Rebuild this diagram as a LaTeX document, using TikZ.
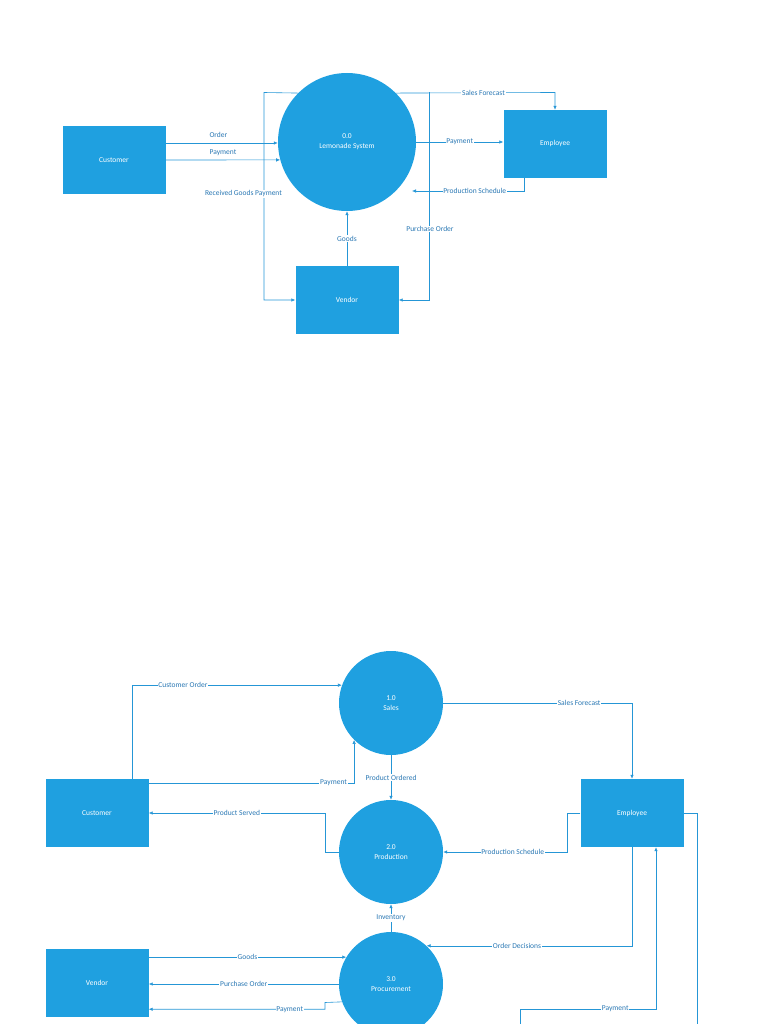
\documentclass[tikz,border=0pt]{standalone}
\usepackage{fontspec}
\setmainfont{Carlito}
\usetikzlibrary{arrows.meta}
\definecolor{fillc}{HTML}{1FA0E0}
\definecolor{linec}{HTML}{2596D6}
\definecolor{labc}{HTML}{2A78B4}
\begin{document}
\begin{tikzpicture}[x=1pt,y=-1pt,
  box/.style={draw=none,fill=fillc,minimum width=103pt,minimum height=68pt,text=white,font=\fontsize{7.5}{9}\selectfont,inner sep=0pt},
  proc/.style={circle,draw=none,fill=fillc,text=white,font=\fontsize{7.5}{10}\selectfont,align=center,inner sep=0pt},
  lab/.style={fill=white,inner sep=0.8pt,text=labc,font=\fontsize{7.5}{9}\selectfont},
  flow/.style={draw=linec,line width=0.6pt},
  arr/.style={flow,-{Latex[length=4pt,width=3.5pt]}}]
\useasboundingbox (0,0) rectangle (768,1024);
% ---------- top diagram ----------
\node[box] (cust0) at (114,160) {Customer};
\node[proc,minimum size=138pt] (lem) at (347,142) {0.0\\Lemonade System};
\node[box] (emp0) at (555,144) {Employee};
\node[box] (vend0) at (347,300) {Vendor};
\draw[arr] (cust0.east |- 0,143) -- (lem.west |- 0,143) node[lab,pos=0.47,above=4pt] {Order};
\draw[arr] (cust0.east |- 0,160) -- (lem.195) node[lab,pos=0.5,above=3pt] {Payment};
\draw[arr] (lem.north west) -- (264,92.5) |- (vend0.west);
\node[lab,anchor=west] (rgp) at (204,194) {Received Goods Payment};
\draw[arr] (lem.north east) -- (555,92.5) node[lab,pos=0.55] {Sales Forecast} -- (emp0.north);
\draw[arr] (429,92.5) |- (vend0.east);
\node[lab] (po0) at (430,229) {Purchase Order};
\draw[arr] (lem.east) -- (emp0.west |- lem.east) node[lab,pos=0.5] {Payment};
\draw[arr] ([xshift=-31pt]emp0.south) |- (412,191) node[lab,pos=0.72] {Production Schedule};
\draw[arr] (vend0.north) -- (lem.south) node[lab,pos=0.5] {Goods};
% ---------- bottom diagram ----------
\node[proc,minimum size=104pt] (sales) at (391,703) {1.0\\Sales};
\node[proc,minimum size=104pt] (prod) at (391,852) {2.0\\Production};
\node[proc,minimum size=104pt] (procu) at (391,984) {3.0\\Procurement};
\node[box] (cust) at (97,813) {Customer};
\node[box] (emp) at (632,813) {Employee};
\node[box] (vend) at (97,983) {Vendor};
\draw[arr] ([xshift=-16pt]cust.north east) |- (sales.160) node[lab,pos=0.62] {Customer Order};
\draw[arr] ([yshift=-4pt]cust.north east) -| (sales.225) node[lab,pos=0.45] {Payment};
\draw[arr] (sales.south) -- (prod.north) node[lab,pos=0.5] {Product Ordered};
\draw[arr] (prod.west) -- ++(-14,0) |- (cust.east) node[lab,pos=0.75] {Product Served};
\draw[arr] (sales.east) -| (emp.north) node[lab,pos=0.36] {Sales Forecast};
\draw[arr] (emp.west) -- ++(-13,0) |- (prod.east) node[lab,pos=0.72] {Production Schedule};
\draw[arr] (emp.south) |- (procu.47) node[lab,pos=0.78] {Order Decisions};
\draw[arr] (procu.north) -- (prod.south) node[lab,pos=0.5] {Inventory};
\draw[arr] (vend.east |- procu.149) -- (procu.149) node[lab,pos=0.5] {Goods};
\draw[arr] (procu.west) -- (vend.east |- procu.west) node[lab,pos=0.5] {Purchase Order};
\draw[arr] (procu.200) -- (325,1002.5) |- ([yshift=8pt]vend.south east) node[lab,pos=0.6] {Payment};
\coordinate (pin) at (520,1026);
\coordinate (pturn) at (656,1009);
\draw[arr] (pin) |- (pturn) node[lab,pos=0.85] {Payment} -- ([xshift=24pt]emp.south);
\coordinate (eout) at (697,1026);
\draw[flow] (emp.east) -- (emp.east -| eout) -- (eout);
\end{tikzpicture}
\end{document}
